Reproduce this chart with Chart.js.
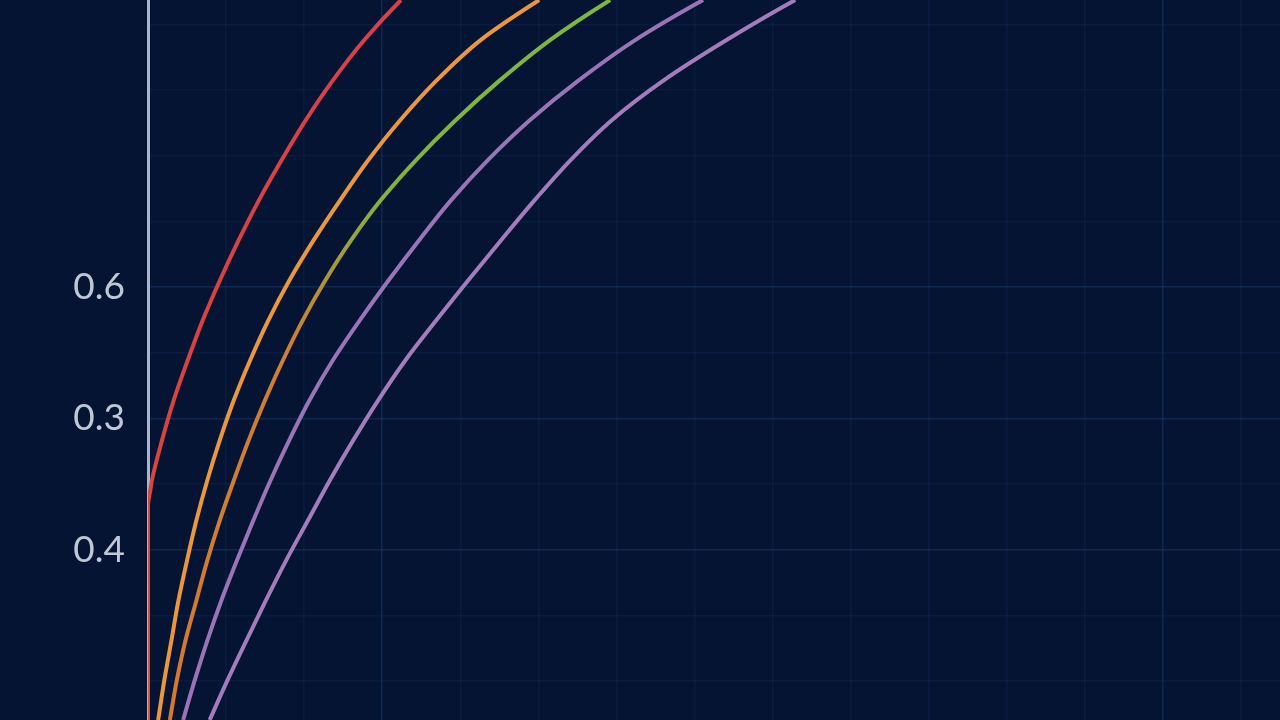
<!DOCTYPE html>
<html>
<head>
<meta charset="utf-8">
<title>Curves</title>
<script src="https://cdn.jsdelivr.net/npm/chart.js@4.4.1/dist/chart.umd.min.js"></script>
<style>
  html, body { margin: 0; padding: 0; background: #041432; }
  #wrap { width: 1280px; height: 720px; position: relative; }
</style>
</head>
<body>
<div id="wrap"><canvas id="curveChart"></canvas></div>
<script>
// Curve samples (x in grid cells from the axis, y in grid cells)
// red hugs the axis at the bottom, so it gets its own levels
const redX = [0, 0, 0.03, 0.05, 0.18, 0.33, 0.51, 0.70, 0.92, 1.16, 1.42, 1.71, 2.02, 2.37, 2.77, 3.24, 3.51];
const redY = [-0.59, 2.68, 2.91, 3.06, 3.67, 4.28, 4.89, 5.49, 6.10, 6.71, 7.32, 7.93, 8.54, 9.15, 9.76, 10.37, 10.67];

// the other four are read at the same heights
const levels = [-0.59, 0.02, 0.62, 1.23, 1.84, 2.45, 3.06, 3.67, 4.28, 4.89, 5.49, 6.10, 6.71, 7.32, 7.93, 8.54, 9.15, 9.76, 10.37, 10.67];
const orangeX = [0.13, 0.21, 0.30, 0.39, 0.50, 0.62, 0.76, 0.92, 1.10, 1.31, 1.54, 1.81, 2.12, 2.46, 2.82, 3.23, 3.70, 4.26, 5.01, 5.43];
const greenX = [0.28, 0.37, 0.48, 0.62, 0.76, 0.92, 1.10, 1.29, 1.50, 1.73, 1.98, 2.27, 2.60, 2.98, 3.43, 3.94, 4.51, 5.15, 5.92, 6.35];
const purpleX = [0.45, 0.60, 0.76, 0.94, 1.14, 1.35, 1.57, 1.81, 2.07, 2.37, 2.71, 3.08, 3.47, 3.88, 4.35, 4.89, 5.52, 6.24, 7.11, 7.59];
const violetX = [0.79, 1.02, 1.26, 1.51, 1.77, 2.05, 2.33, 2.63, 2.95, 3.30, 3.69, 4.10, 4.52, 4.95, 5.41, 5.94, 6.61, 7.41, 8.29, 8.77];

// Axis ticks and labels as printed
const xGridValues = [0, 1, 2, 3, 4, 5, 6, 7, 8, 9, 10, 11, 12, 13, 14];
const xMajorValues = [3, 13];
const yGridValues = [0, 1, 2, 3, 4, 5, 6, 7, 8, 9, 10];
const yTickValues = [6, 4, 2];
const yTickLabels = ["0.6", "0.3", "0.4"];

function toPoints(xs, ys) {
  return xs.map(function (x, i) {
    return { x: x, y: ys[i] };
  });
}

// vertical gradient helper for the two-tone strokes
function verticalGradient(stops, fallback) {
  return function (context) {
    const chart = context.chart;
    const area = chart.chartArea;
    if (!area) return fallback;
    const g = chart.ctx.createLinearGradient(0, area.top, 0, area.bottom);
    stops.forEach(function (s) {
      g.addColorStop(s[0], s[1]);
    });
    return g;
  };
}

function gridColor(majors) {
  return function (context) {
    if (majors.indexOf(context.tick.value) >= 0) {
      return "rgba(40, 90, 160, 0.30)";
    }
    return "rgba(35, 75, 140, 0.16)";
  };
}

const ctx = document.getElementById("curveChart").getContext("2d");

new Chart(ctx, {
  type: "line",
  data: {
    datasets: [
      {
        label: "violet",
        data: toPoints(violetX, levels),
        borderColor: "#a47cbc",
      },
      {
        label: "purple",
        data: toPoints(purpleX, levels),
        borderColor: "#9a74b6",
      },
      {
        label: "green",
        data: toPoints(greenX, levels),
        borderColor: verticalGradient(
          [
            [0, "#7db83c"],
            [0.27, "#84b23a"],
            [0.47, "#cf802f"],
            [1, "#d6792c"],
          ],
          "#cf802f"
        ),
      },
      {
        label: "orange",
        data: toPoints(orangeX, levels),
        borderColor: "#ec9838",
      },
      {
        label: "red",
        data: toPoints(redX, redY),
        borderColor: verticalGradient(
          [
            [0, "#d9404a"],
            [0.6, "#d8433f"],
            [1, "#d9573a"],
          ],
          "#d9434a"
        ),
      },
    ],
  },
  options: {
    indexAxis: "y",
    responsive: true,
    maintainAspectRatio: false,
    animation: false,
    layout: { padding: 0 },
    elements: {
      line: {
        borderWidth: 4,
        cubicInterpolationMode: "monotone",
        capBezierPoints: false,
        fill: false,
      },
      point: { radius: 0, hoverRadius: 0 },
    },
    plugins: {
      legend: { display: false },
      tooltip: { enabled: false },
    },
    scales: {
      x: {
        type: "linear",
        position: "bottom",
        min: 0,
        max: 14.5,
        afterBuildTicks: function (scale) {
          scale.ticks = xGridValues.map(function (v) {
            return { value: v };
          });
        },
        afterFit: function (scale) {
          scale.height = 0;
        },
        ticks: { display: false },
        border: { display: false },
        grid: {
          drawTicks: false,
          lineWidth: 1.5,
          color: gridColor(xMajorValues),
        },
      },
      y: {
        type: "linear",
        position: "left",
        min: -0.59,
        max: 10.37,
        afterBuildTicks: function (scale) {
          scale.ticks = yGridValues.map(function (v) {
            return { value: v };
          });
        },
        afterFit: function (scale) {
          scale.width = 148;
          scale.paddingTop = 0;
          scale.paddingBottom = 0;
        },
        border: { display: true, color: "#a9b5ca", width: 3 },
        grid: {
          drawTicks: false,
          lineWidth: 1.5,
          color: gridColor(yTickValues),
        },
        ticks: {
          padding: 23,
          color: "#c0c8d5",
          font: { family: "Lato, 'Open Sans', sans-serif", size: 37 },
          callback: function (value) {
            const i = yTickValues.indexOf(value);
            return i >= 0 ? yTickLabels[i] : "";
          },
        },
      },
    },
  },
});
</script>
</body>
</html>
